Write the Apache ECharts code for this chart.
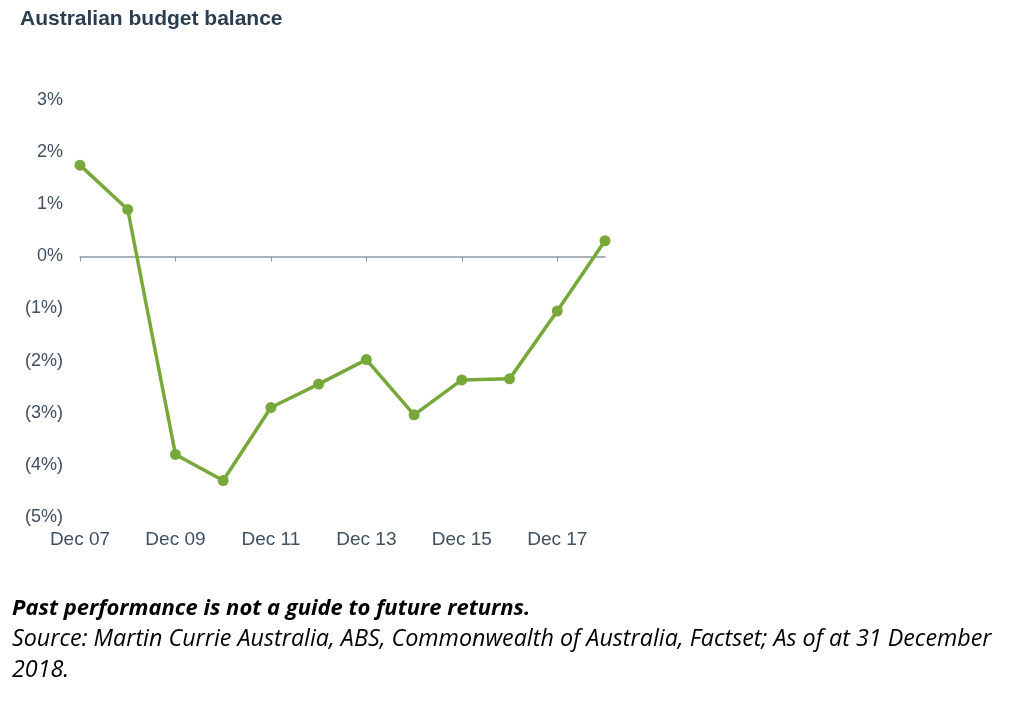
<!DOCTYPE html>
<html>
<head>
<meta charset="utf-8">
<script src="https://cdn.jsdelivr.net/npm/echarts@6/dist/echarts.min.js"></script>
<style>
  html, body { margin: 0; padding: 0; background: #fff; }
  #main { width: 1024px; height: 703px; }
</style>
</head>
<body>
<div id="main"></div>
<script>
// budget balance, % of GDP
var years = ['Dec 07', 'Dec 08', 'Dec 09', 'Dec 10', 'Dec 11', 'Dec 12',
             'Dec 13', 'Dec 14', 'Dec 15', 'Dec 16', 'Dec 17', 'Dec 18'];
var balance = [1.75, 0.9, -3.8, -4.3, -2.9, -2.45, -1.98, -3.04, -2.37, -2.35, -1.05, 0.3];

var axisColor = '#8a99a6';
var labelColor = '#3e5062';

var myChart = echarts.init(document.getElementById('main'));

myChart.setOption({
    animation: false,
    title: [{
        text: 'Australian budget balance',
        left: 15,
        top: 4,
        textStyle: { fontFamily: 'Liberation Sans', fontSize: 21, fontWeight: 'bold', color: '#2b3e50' }
    }],
    graphic: [{
        type: 'text',
        left: 12,
        top: 598,
        style: {
            text: 'Past performance is not a guide to future returns.',
            font: 'italic bold 22px "Open Sans"',
            fill: '#000'
        }
    }, {
        type: 'text',
        left: 12,
        top: 628,
        style: {
            text: 'Source: Martin Currie Australia, ABS, Commonwealth of Australia, Factset; As of at 31 December',
            font: 'italic 23.3px "Open Sans"',
            fill: '#000'
        }
    }, {
        type: 'text',
        left: 12,
        top: 659,
        style: {
            text: '2018.',
            font: 'italic 23.3px "Open Sans"',
            fill: '#000'
        }
    }],
    grid: { left: 80, right: 419, top: 100, bottom: 186 },
    xAxis: [{
        type: 'category',
        data: years,
        boundaryGap: false,
        position: 'bottom',
        axisLine: { show: false, onZero: false },
        axisTick: { show: false },
        axisLabel: {
            interval: 1,
            margin: 13,
            color: labelColor,
            fontFamily: 'Liberation Sans',
            fontSize: 19
        }
    }, {
        type: 'category',
        data: years,
        boundaryGap: false,
        position: 'bottom',
        axisLine: { show: true, onZero: true, lineStyle: { color: axisColor, width: 1.5 } },
        axisTick: { show: true, interval: 1, length: 5, lineStyle: { color: axisColor } },
        axisLabel: { show: false }
    }],
    yAxis: {
        type: 'value',
        min: -5,
        max: 3,
        interval: 1,
        axisLine: { show: false },
        axisTick: { show: false },
        splitLine: { show: false },
        axisLabel: {
            margin: 17,
            color: labelColor,
            fontFamily: 'Liberation Sans',
            fontSize: 18,
            formatter: function (v) {
                return v < 0 ? '(' + Math.abs(v) + '%)' : v + '%';
            }
        }
    },
    series: [{
        type: 'line',
        data: balance,
        xAxisIndex: 0,
        symbol: 'circle',
        symbolSize: 11,
        lineStyle: { color: '#78a83a', width: 3.5 },
        itemStyle: { color: '#78a83a' }
    }]
});
</script>
</body>
</html>
